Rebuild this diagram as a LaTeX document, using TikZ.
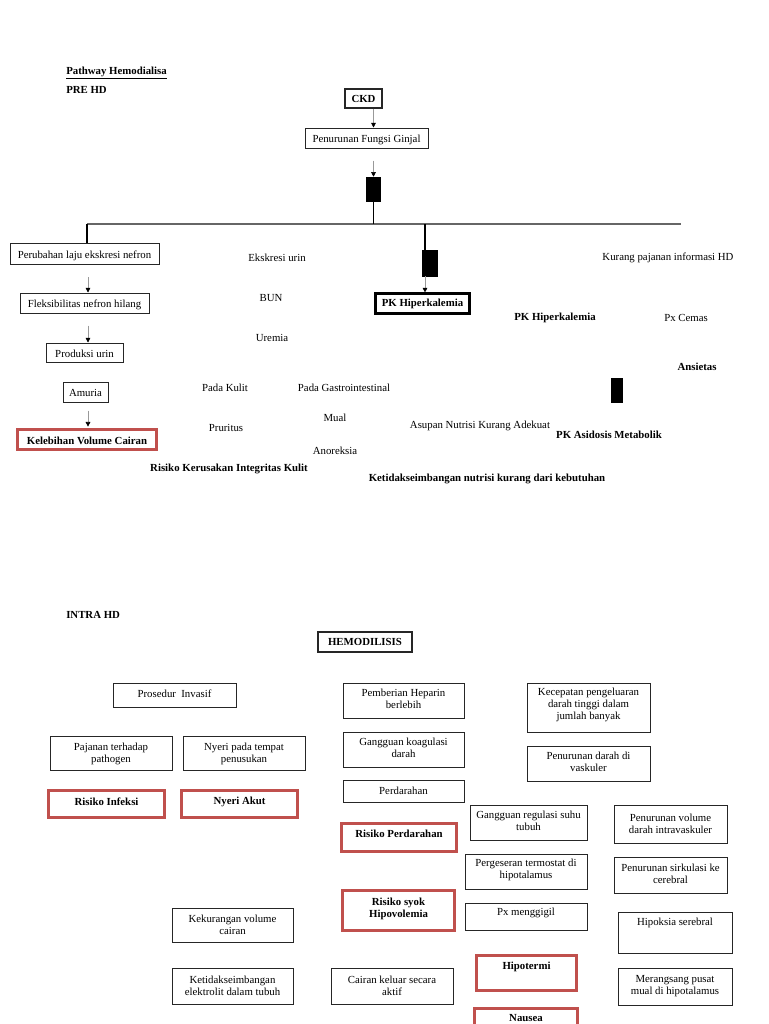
\documentclass[tikz,border=0pt]{standalone}
\usepackage{fontspec}
\setmainfont{Liberation Serif}
\usetikzlibrary{arrows.meta}
\definecolor{redb}{HTML}{C0504D}
\newcommand\bx[7][0.5pt]{%
 \node[box, minimum width={(#5-#3)*0.75pt}, minimum height={(#6-#4)*0.75pt}] (#2) at ({(#3+#5)/2},{(#4+#6)/2}) {};
 \node[lbl] (#2-t) at ([yshift=#1]#2.center) {#7};}
\newcommand\rbx[7][0.5pt]{%
 \node[redbox, minimum width={(#5-#3)*0.75pt}, minimum height={(#6-#4)*0.75pt}] (#2) at ({(#3+#5)/2},{(#4+#6)/2}) {};
 \node[lbl,bld] (#2-t) at ([yshift=#1]#2.center) {#7};}
\begin{document}
\begin{tikzpicture}[x=0.75pt,y=-0.75pt,
  every node/.style={font=\fontsize{8.1}{9}\selectfont, inner sep=0pt},
  box/.style={draw=black!85, line width=0.75pt, fill=white},
  redbox/.style={draw=redb, line width=2.3pt, fill=white},
  lbl/.style={align=center},
  bld/.style={font=\fontsize{8.1}{9}\selectfont\bfseries},
  arr/.style={draw=black!40, line width=0.5pt, -{Triangle[length=3.5pt,width=3.5pt,color=black]}},
  blk/.style={fill=black, draw=black},
  hline/.style={draw=black!60, line width=1.2pt},
]
\useasboundingbox[fill=white] (0,0) rectangle (768,1024);
\clip (0,0) rectangle (768,1024);

% ---------- PRE HD ----------
\node[bld, anchor=west] (title) at (66,73) {\underline{Pathway Hemodialisa}};
\node[bld, anchor=west] (prehd) at (66,90) {PRE HD};

\node[box, line width=0.9pt, minimum width={37*0.75pt}, minimum height={19*0.75pt}] (ckd) at (363.5,98.5) {};
\node[bld] (ckd-t) at (ckd.center) {CKD};
\bx[-1.2pt]{pfg}{305}{128}{428}{148}{Penurunan Fungsi Ginjal}

\node[blk, minimum width={14*0.75pt}, minimum height={24*0.75pt}] (b1) at (373.5,189) {};
\node[blk, minimum width={15*0.75pt}, minimum height={26*0.75pt}] (b2) at (429.5,263) {};
\node[blk, minimum width={11*0.75pt}, minimum height={24*0.75pt}] (b3) at (616.5,390) {};

\coordinate (hl) at (87,224);
\coordinate (hr) at (681,224);
\coordinate (hb1) at (373.5,224);
\coordinate (hb2) at (425,224);
\draw[hline] (hl) -- (hr);
\draw[line width=0.9pt] (b1.south) -- (hb1);

\bx[-1.8pt]{per}{10}{243}{159}{264}{Perubahan laju ekskresi nefron}
\bx[-1.3pt]{fle}{20}{293}{149}{313}{Fleksibilitas nefron hilang}
\bx[-0.8pt]{pro}{46}{343}{123}{362}{Produksi urin}
\bx[-0.8pt]{amu}{63}{382}{108}{402}{Amuria}
\rbx[-0.8pt]{kvc}{17.5}{429.5}{156.5}{449.5}{Kelebihan Volume Cairan}

\node[draw=black, line width=1.6pt, fill=white, minimum width={94*0.75pt}, minimum height={20*0.75pt}] (pkh) at (422.5,303.5) {};
\node[bld] (pkh-t) at ([yshift=-0.6pt]pkh.center) {PK Hiperkalemia};

\draw[line width=0.9pt] (hl) -- (per.north -| hl);
\draw[line width=0.9pt] (hb2) -- (b2.north -| hb2);
\draw[arr] (ckd.south -| b1.north) -- (pfg.north -| b1.north);
\draw[arr, shorten <=9pt] (pfg.south -| b1.north) -- (b1.north);
\draw[arr] (b2.south -| hb2) -- (pkh.north -| hb2);
\draw[arr, shorten <=9.5pt] (per.south -| 88,0) -- (fle.north -| 88,0);
\draw[arr, shorten <=9pt] (fle.south -| 88,0) -- (pro.north -| 88,0);
\draw[arr, shorten <=6pt] (amu.south -| 88,0) -- ([yshift=1pt]kvc.north -| 88,0);

\node (t1) at (277,258) {Ekskresi urin};
\node (t2) at (271,298) {BUN};
\node (t3) at (272,338) {Uremia};
\node (t4) at (225,388) {Pada Kulit};
\node (t5) at (344,388) {Pada Gastrointestinal};
\node (t6) at (335,418) {Mual};
\node (t7) at (226,428) {Pruritus};
\node (t8) at (335,451) {Anoreksia};
\node[bld] (t9) at (229,469) {Risiko Kerusakan Integritas Kulit};
\node (t10) at (480,426) {Asupan Nutrisi Kurang Adekuat};
\node[bld] (t11) at (487,479) {Ketidakseimbangan nutrisi kurang dari kebutuhan};
\node[bld] (t12) at (609,435) {PK Asidosis Metabolik};
\node (t13) at (668,258) {Kurang pajanan informasi HD};
\node[bld] (t14) at (555,318) {PK Hiperkalemia};
\node (t15) at (686,318) {Px Cemas};
\node[bld] (t16) at (697,367) {Ansietas};

% ---------- INTRA HD ----------
\node[bld, anchor=west] (intrahd) at (66,615) {INTRA HD};
\node[box, line width=0.9pt, minimum width={94*0.75pt}, minimum height={20*0.75pt}] (hem) at (365,642) {};
\node[bld] (hem-t) at (hem.center) {HEMODILISIS};

\bx[1.2pt]{pi}{113}{683}{236}{707}{Prosedur\enspace Invasif}
\bx[-0.8pt]{pp}{50}{736}{172}{770}{Pajanan terhadap\\pathogen}
\bx[-0.8pt]{np}{183}{736}{305}{770}{Nyeri pada tempat\\penusukan}
\rbx[1.5pt]{ri}{48.5}{790.5}{164.5}{817.5}{Risiko Infeksi}
\rbx[1.5pt]{na}{181.5}{790.5}{297.5}{817.5}{Nyeri Akut}

\bx[1pt]{ph}{343}{683}{464}{718}{Pemberian Heparin\\berlebih}
\bx[1pt]{gk}{343}{732}{464}{767}{Gangguan koagulasi\\darah}
\bx[0.5pt]{pd}{343}{780}{464}{802}{Perdarahan}
\rbx[2.5pt]{rp}{341.5}{823.5}{456.5}{851.5}{Risiko Perdarahan}

\bx[2pt]{kp}{527}{683}{650}{732}{Kecepatan pengeluaran\\darah tinggi dalam\\jumlah banyak}
\bx[1pt]{pdv}{527}{746}{650}{781}{Penurunan darah di\\vaskuler}
\bx[1pt]{grs}{470}{805}{587}{840}{Gangguan regulasi suhu\\tubuh}
\bx[0.5pt]{pvd}{614}{805}{727}{843}{Penurunan volume\\darah intravaskuler}
\bx[1pt]{pth}{465}{854}{587}{889}{Pergeseran termostat di\\hipotalamus}
\bx[1pt]{psc}{614}{857}{727}{893}{Penurunan sirkulasi ke\\cerebral}
\rbx[1.5pt]{rsh}{342.5}{890.5}{454.5}{930.5}{Risiko syok\\Hipovolemia}
\bx[2.8pt]{pxm}{465}{903}{587}{930}{Px menggigil}
\bx[7.5pt]{hs}{618}{912}{732}{953}{Hipoksia serebral}
\bx[0.5pt]{kvc2}{172}{908}{293}{942}{Kekurangan volume\\cairan}
\rbx[4.7pt]{htm}{476.5}{955.5}{576.5}{990.5}{Hipotermi}
\bx[0pt]{mpm}{618}{968}{732}{1005}{Merangsang pusat\\mual di hipotalamus}
\bx[0pt]{keb}{172}{968}{293}{1004}{Ketidakseimbangan\\elektrolit dalam tubuh}
\bx[0pt]{cka}{331}{968}{453}{1004}{Cairan keluar secara\\aktif}
\node[redbox, minimum width={103*0.75pt}, minimum height={30*0.75pt}] (nau) at (526,1023.5) {};
\node[bld] (nau-t) at (526,1018.5) {Nausea};
\end{tikzpicture}
\end{document}
